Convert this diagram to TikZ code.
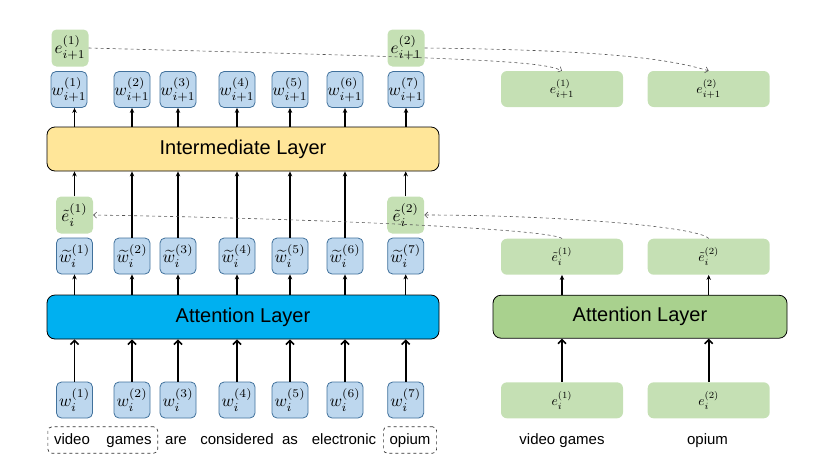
\documentclass[tikz,border=0pt]{standalone}
\usepackage{amsmath,amssymb,graphicx}
\usepackage{fontspec}
\setmainfont{Liberation Sans}
\usepackage{tikz}
\usetikzlibrary{positioning,arrows.meta,fit}
\definecolor{wfill}{HTML}{BDD7EE}
\definecolor{wline}{HTML}{41719C}
\definecolor{efill}{HTML}{C5E0B4}
\definecolor{imfill}{HTML}{FFE699}
\definecolor{atfill}{HTML}{00B0F0}
\definecolor{gafill}{HTML}{A9D18E}
\definecolor{linkgray}{HTML}{555555}
\def\lbl#1{\scalebox{1.7}{$#1$}}
\def\rlbl#1{\scalebox{1.35}{$#1$}}
\def\wn#1{\lbl{w_{i+1}^{(#1)}}}
\def\wt#1{\lbl{\widetilde{w}_{i}^{(#1)}}}
\def\wi#1{\lbl{w_{i}^{(#1)}}}

\begin{document}
\begin{tikzpicture}[wbox/.style = {draw = wline, fill = wfill, line width = 0.8pt, rounded corners = 5pt, minimum width = 36pt, minimum height = 36pt, inner sep = 0pt},
ebox/.style = {fill = efill, rounded corners = 5pt, minimum width = 37pt, minimum height = 37pt, inner sep = 0pt},
wide/.style = {fill = efill, rounded corners = 6pt, minimum width = 122pt, minimum height = 36pt, inner sep = 0pt},
layer/.style = {draw = black, line width = 0.8pt, rounded corners = 8pt, minimum width = 392pt, minimum height = 44pt, font = \fontsize{20}{24}\selectfont},
word/.style = {inner sep = 0pt, text height = 11pt, text depth = 3pt, font = \fontsize{15}{18}\selectfont},
group/.style = {draw = black!80, dashed, line width = 0.7pt, rounded corners = 4pt, inner xsep = 6pt, inner ysep = 6pt},
up/.style = {-{Stealth[length = 5pt, width = 4.5pt]}, line width = 1.2pt},
feed/.style = {-{Straight Barb[length = 4pt, width = 8pt]}, line width = 1.6pt},
link/.style = {draw = linkgray, dashed, line width = 0.6pt, -{Straight Barb[length = 3pt, width = 6pt]}}]
\useasboundingbox (0pt, 0pt) rectangle (830pt, -467pt);
% layers
\draw (243.0pt, -149.0pt)node[layer, fill = imfill](inter){Intermediate Layer};
\draw (243.0pt, -317.0pt)node[layer, fill = atfill](attn){Attention Layer};
\draw (640.0pt, -316.7pt)node[layer, fill = gafill, minimum width = 294pt, minimum height = 43pt](gattn){Attention Layer};
% next words
\draw (70.0pt, -48.0pt)node[ebox](enx1){\lbl{e_{i+1}^{(1)}}};
\draw (406.0pt, -48.0pt)node[ebox](enx7){\lbl{e_{i+1}^{(2)}}};
\draw (69.0pt, -89.5pt)node[wbox](nxt1){\wn{1}};
\draw (132.0pt, -89.5pt)node[wbox](nxt2){\wn{2}};
\draw (178.0pt, -89.5pt)node[wbox](nxt3){\wn{3}};
\draw (237.0pt, -89.5pt)node[wbox](nxt4){\wn{4}};
\draw (290.0pt, -89.5pt)node[wbox](nxt5){\wn{5}};
\draw (345.0pt, -89.5pt)node[wbox](nxt6){\wn{6}};
\draw (406.0pt, -89.5pt)node[wbox](nxt7){\wn{7}};
% attended words
\draw (74.5pt, -215.0pt)node[ebox](et1){\lbl{\tilde{e}_{i}^{(1)}}};
\draw (405.7pt, -215.0pt)node[ebox](et7){\lbl{\tilde{e}_{i}^{(2)}}};
\draw (74.5pt, -256.0pt)node[wbox](att1){\wt{1}};
\draw (132.0pt, -256.0pt)node[wbox](att2){\wt{2}};
\draw (178.0pt, -256.0pt)node[wbox](att3){\wt{3}};
\draw (237.0pt, -256.0pt)node[wbox](att4){\wt{4}};
\draw (290.0pt, -256.0pt)node[wbox](att5){\wt{5}};
\draw (345.0pt, -256.0pt)node[wbox](att6){\wt{6}};
\draw (405.7pt, -256.0pt)node[wbox](att7){\wt{7}};
% input words
\draw (74.5pt, -400.0pt)node[wbox](in1){\wi{1}};
\draw (132.0pt, -400.0pt)node[wbox](in2){\wi{2}};
\draw (178.0pt, -400.0pt)node[wbox](in3){\wi{3}};
\draw (237.0pt, -400.0pt)node[wbox](in4){\wi{4}};
\draw (290.0pt, -400.0pt)node[wbox](in5){\wi{5}};
\draw (345.0pt, -400.0pt)node[wbox](in6){\wi{6}};
\draw (405.7pt, -400.0pt)node[wbox](in7){\wi{7}};
% sentence
\draw (72.0pt, -440.0pt)node[word](wd1){video};
\draw (129.0pt, -440.0pt)node[word](wd2){games};
\draw (176.0pt, -440.0pt)node[word](wd3){are};
\draw (237.0pt, -440.0pt)node[word](wd4){considered};
\draw (290.0pt, -440.0pt)node[word](wd5){as};
\draw (344.0pt, -440.0pt)node[word](wd6){electronic};
\draw (410.0pt, -440.0pt)node[word](wd7){opium};
\node[group, fit = (wd1)(wd2)](grp1){};
\node[group, fit = (wd7)](grp2){};
% entities
\draw (562.0pt, -89.0pt)node[wide](renx1){\rlbl{e_{i+1}^{(1)}}};
\draw (708.7pt, -89.0pt)node[wide](renx2){\rlbl{e_{i+1}^{(2)}}};
\draw (562.0pt, -256.7pt)node[wide](ret1){\rlbl{\tilde{e}_{i}^{(1)}}};
\draw (708.7pt, -256.7pt)node[wide](ret2){\rlbl{\tilde{e}_{i}^{(2)}}};
\draw (562.0pt, -400.3pt)node[wide](rin1){\rlbl{e_{i}^{(1)}}};
\draw (708.7pt, -400.3pt)node[wide](rin2){\rlbl{e_{i}^{(2)}}};
\draw (562.0pt, -440.0pt)node[word](rwd1){video games};
\draw (707.5pt, -440.0pt)node[word](rwd2){opium};
% arrows into the attention layers
\path[feed] (in1) edge (in1 |- attn.south);
\path[feed] (in2) edge (in2 |- attn.south);
\path[feed] (in3) edge (in3 |- attn.south);
\path[feed] (in4) edge (in4 |- attn.south);
\path[feed] (in5) edge (in5 |- attn.south);
\path[feed] (in6) edge (in6 |- attn.south);
\path[feed] (in7) edge (in7 |- attn.south);
\path[feed] (rin1) edge (rin1 |- gattn.south);
\path[feed] (rin2) edge (rin2 |- gattn.south);
% arrows out of the attention layers
\path[up] (att1 |- attn.north) edge (att1);
\path[up] (att2 |- attn.north) edge (att2);
\path[up] (att3 |- attn.north) edge (att3);
\path[up] (att4 |- attn.north) edge (att4);
\path[up] (att5 |- attn.north) edge (att5);
\path[up] (att6 |- attn.north) edge (att6);
\path[up] (att7 |- attn.north) edge (att7);
\path[up] (ret1 |- gattn.north) edge (ret1);
\path[up] (ret2 |- gattn.north) edge (ret2);
% into the intermediate layer
\path[up] (et1) edge (et1 |- inter.south);
\path[up] (att2) edge (att2 |- inter.south);
\path[up] (att3) edge (att3 |- inter.south);
\path[up] (att4) edge (att4 |- inter.south);
\path[up] (att5) edge (att5 |- inter.south);
\path[up] (att6) edge (att6 |- inter.south);
\path[up] (et7) edge (et7 |- inter.south);
% out of the intermediate layer
\path[up] (att1 |- inter.north) edge (att1 |- nxt1.south);
\path[up] (nxt2 |- inter.north) edge (nxt2);
\path[up] (nxt3 |- inter.north) edge (nxt3);
\path[up] (nxt4 |- inter.north) edge (nxt4);
\path[up] (nxt5 |- inter.north) edge (nxt5);
\path[up] (nxt6 |- inter.north) edge (nxt6);
\path[up] (nxt7 |- inter.north) edge (nxt7);
% dashed links
\draw[link] (enx1.east) .. controls +(380pt, -10pt) and +(-20pt, 10pt) .. (renx1.north);
\draw[link] (enx7.east) .. controls +(180pt, -2pt) and +(-40pt, 12pt) .. (renx2.north);
\draw[link] (ret1.north) .. controls +(-12pt, 10pt) and +(200pt, -3pt) .. (et1.east);
\draw[link] (ret2.north) .. controls +(-10pt, 12pt) and +(130pt, 0pt) .. (et7.east);
\end{tikzpicture}
\end{document}
